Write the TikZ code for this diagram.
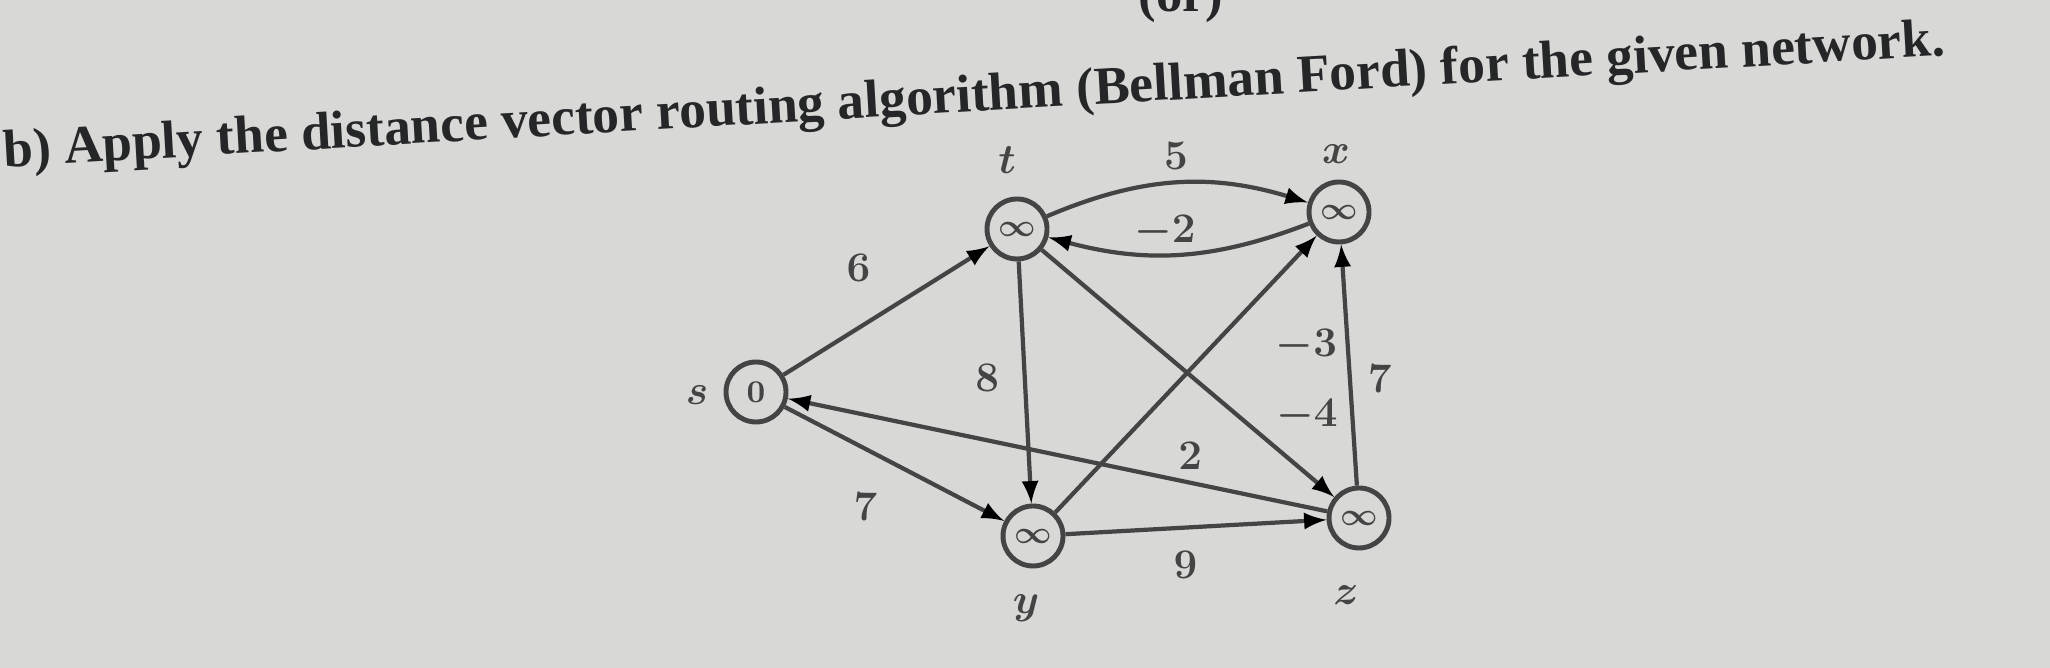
\documentclass[tikz,border=0pt]{standalone}
\usepackage{amsmath}
\usepackage{amssymb}
\usepackage{fontspec}
\newfontfamily\qfont{Liberation Serif}
\usepackage{tikz}
\usetikzlibrary{arrows}
\usetikzlibrary{positioning,automata}

\definecolor{paper}{RGB}{216,216,214}
\definecolor{ink}{RGB}{68,68,68}
\definecolor{print}{RGB}{36,38,40}

\begin{document}
\begin{tikzpicture}[>=latex, every node/.style={transform shape}]
		\tikzstyle{every state}=[minimum size=6mm, inner sep=0pt, draw=ink, line width=1.4pt, text=ink, font=\small\boldmath]
		\tikzstyle{wt}=[text=ink, font=\fontsize{12.5}{14}\selectfont\boldmath]
		
		\fill[paper] (0,0) rectangle (20.5,-6.68);
		\useasboundingbox (0,0) rectangle (20.5,-6.68);
		
		% question text
		\node[text=print, anchor=base] (or) at (11.81,-0.12) {\qfont\bfseries\fontsize{15}{17}\selectfont (or)};
		\node[text=print, anchor=base west, rotate=3.3] (q) at (-0.08,-1.68)
		{\qfont\bfseries\fontsize{15.2}{17}\selectfont b) Apply the distance vector routing algorithm (Bellman Ford) for the given network.};
		
		\node[state] (s) at (7.56,-3.92)  {$0$};
		\node[state] (t) at (10.17,-2.29) {$\infty$};
		\node[state] (x) at (13.39,-2.12) {$\infty$};
		\node[state] (y) at (10.33,-5.36) {$\infty$};
		\node[state] (z) at (13.59,-5.18) {$\infty$};
		
		\node[wt] (sname) at (6.97,-3.95) {$s$};
		\node[wt] (tname) at (10.07,-1.60) {$t$};
		\node[wt] (xname) at (13.36,-1.54) {$x$};
		\node[wt] (yname) at (10.26,-6.08) {$y$};
		\node[wt] (zname) at (13.46,-5.95) {$z$};
		
		\path[->, draw=ink, line width=1.2pt]
		(s) edge 			   node [wt, pos=0.5, xshift=-0.28cm, yshift=0.43cm]  {$6$}  (t)
		(t) edge [bend left=20] node [wt, above]                            {$5$}  (x)
		(x) edge [bend left=18] node [wt, above, xshift=-0.15cm, yshift=-0.08cm] {$-2$} (t)
		(t) edge 			   node [wt, left=0.12cm, yshift=0.05cm]         {$8$}  (y)
		(y) edge 			   node [wt, pos=0.8, xshift=0.42cm, yshift=-0.55cm] {$-3$} (x)
		(z) edge 			   node [wt, right=0.05cm, yshift=-0.14cm]       {$7$}  (x)
		(t) edge 			   node [wt, pos=0.64, xshift=0.78cm, yshift=-0.08cm] {$-4$} (z)
		(z) edge 			   node [wt, pos=0.28, xshift=0.14cm, yshift=0.24cm] {$2$}  (s)
		(s) edge 			   node [wt, pos=0.39, xshift=-0.05cm, yshift=-0.55cm] {$7$}  (y)
		(y) edge 			   node [wt, pos=0.46, yshift=-0.37cm]           {$9$}  (z)
		;
\end{tikzpicture}
\end{document}
